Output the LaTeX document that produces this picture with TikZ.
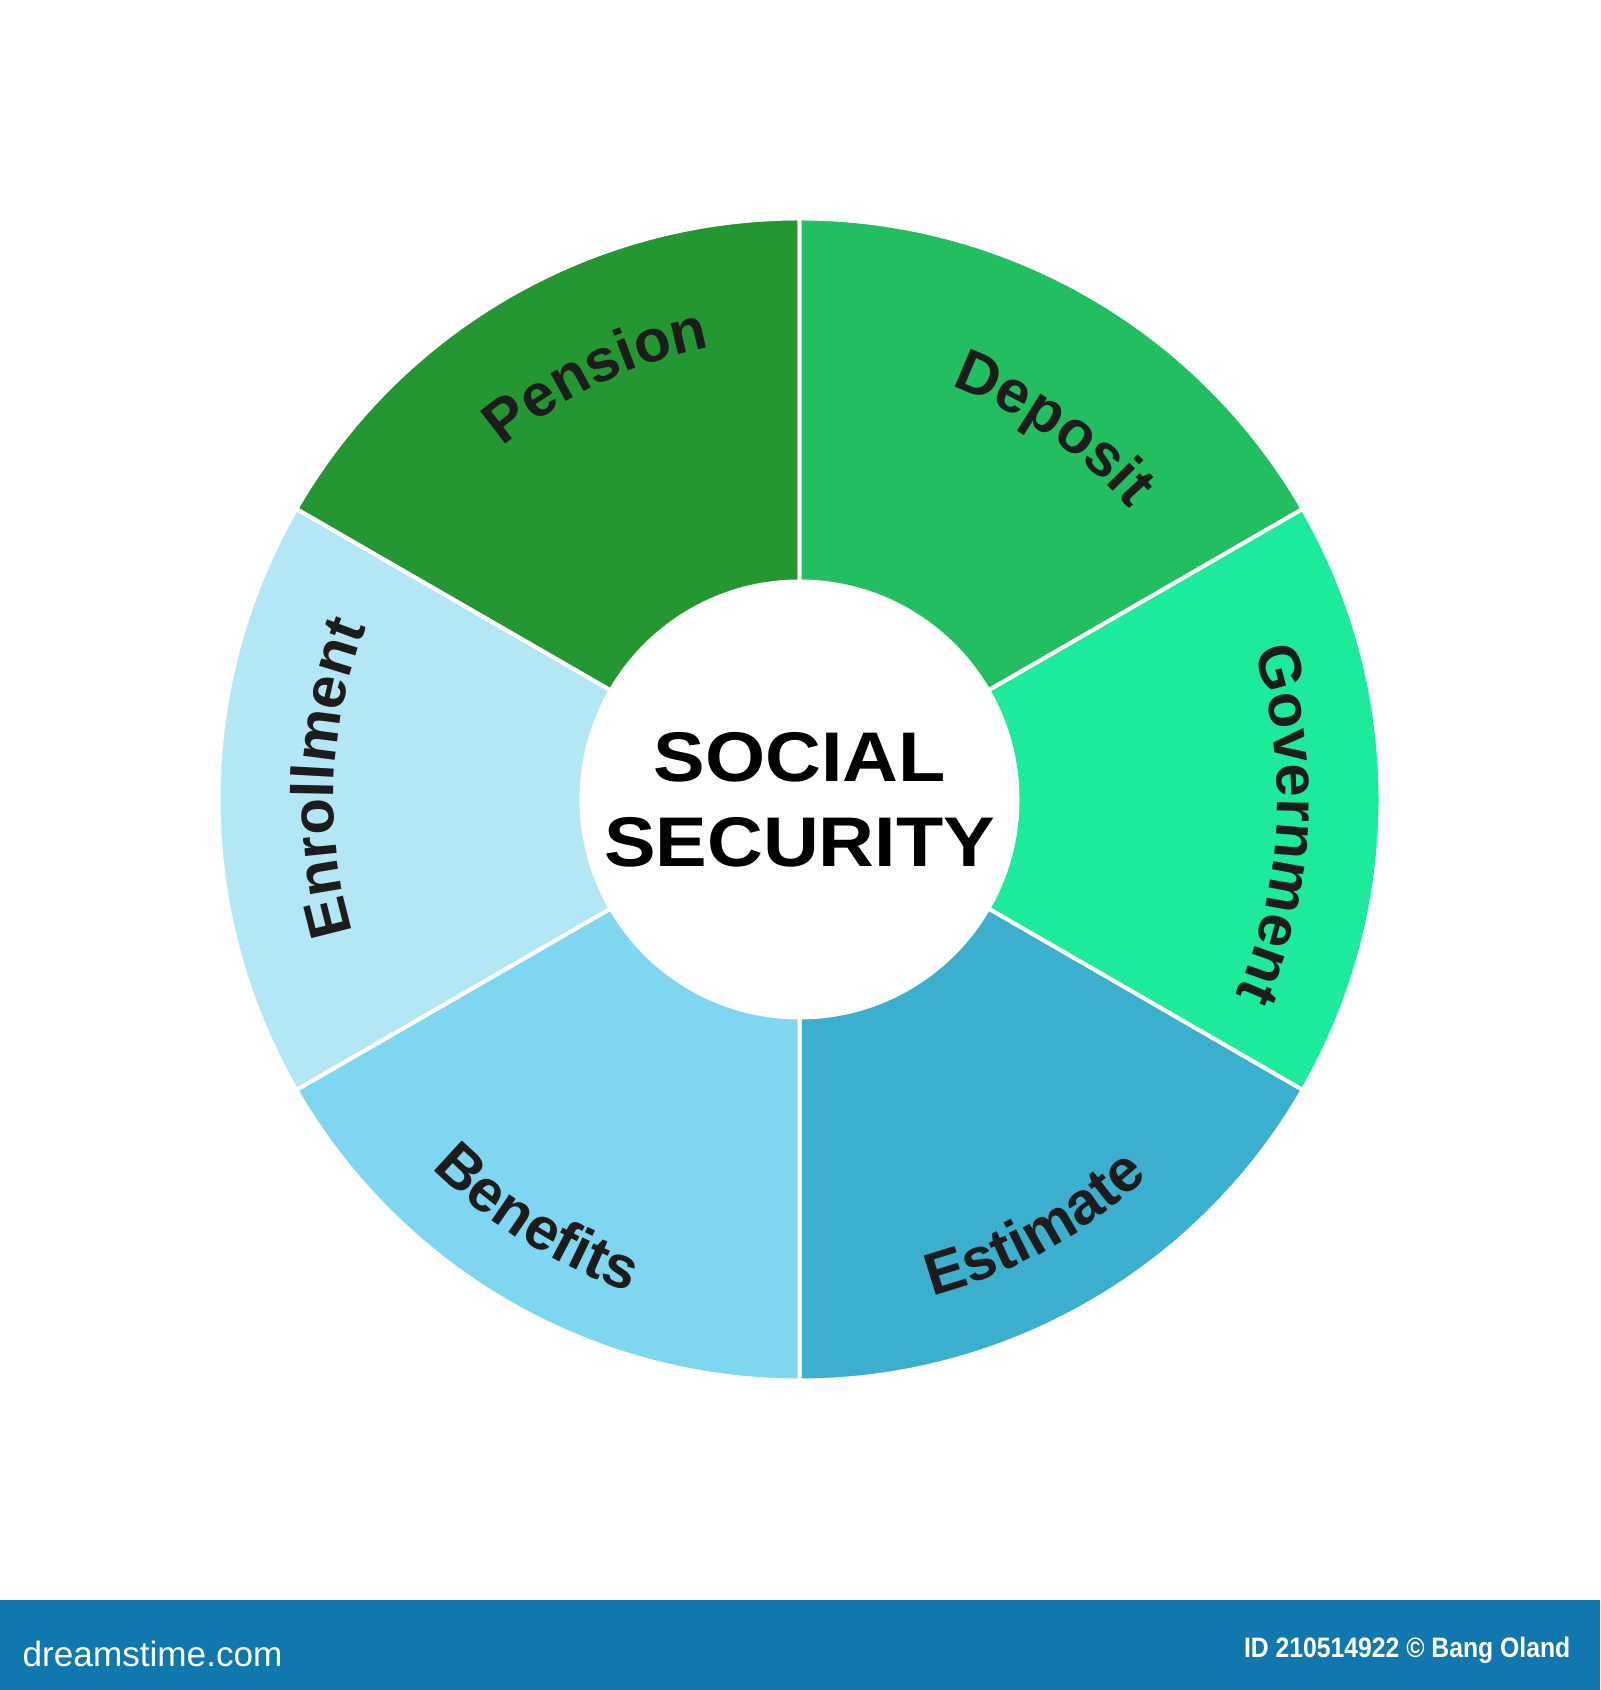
\documentclass[tikz,border=0pt]{standalone}
\usepackage{fontspec}
\setmainfont{Liberation Sans}
\newfontfamily\widefont{Liberation Sans}[FakeStretch=1.1]
\newfontfamily\narrowfont{Liberation Sans}[FakeStretch=0.88]
\definecolor{pensiongreen}{RGB}{36, 151, 51}
\definecolor{depositgreen}{RGB}{35, 190, 95}
\definecolor{govgreen}{RGB}{29, 234, 155}
\definecolor{estimateblue}{RGB}{60, 175, 206}
\definecolor{benefitsblue}{RGB}{126, 214, 241}
\definecolor{enrollblue}{RGB}{179, 231, 246}
\definecolor{barblue}{RGB}{17, 119, 175}
\definecolor{labelblack}{RGB}{28, 28, 28}
\usetikzlibrary{calc, decorations.text}
\newcommand{\labelfont}{\color{labelblack}\bfseries\fontsize{17}{20}\selectfont}
\tikzset{
  segment/.style={draw=white, line width=0.04cm},
  ringlabel/.style={decorate, decoration={text along path, text align=center, text={|\labelfont|#1}}}
}

\begin{document}
\begin{tikzpicture}
  \useasboundingbox (0,0) rectangle (16,16.9);
  \coordinate (c) at (7.995,8.905);

  % ring segments
  \filldraw[segment, fill=pensiongreen] (c) -- ++(90:5.81) arc[start angle=90, end angle=150, radius=5.81] -- cycle;
  \filldraw[segment, fill=depositgreen] (c) -- ++(30:5.81) arc[start angle=30, end angle=90, radius=5.81] -- cycle;
  \filldraw[segment, fill=govgreen] (c) -- ++(-30:5.81) arc[start angle=-30, end angle=30, radius=5.81] -- cycle;
  \filldraw[segment, fill=estimateblue] (c) -- ++(-90:5.81) arc[start angle=-90, end angle=-30, radius=5.81] -- cycle;
  \filldraw[segment, fill=benefitsblue] (c) -- ++(210:5.81) arc[start angle=210, end angle=270, radius=5.81] -- cycle;
  \filldraw[segment, fill=enrollblue] (c) -- ++(150:5.81) arc[start angle=150, end angle=210, radius=5.81] -- cycle;

  \node[circle, fill=white, minimum size=4.4cm, inner sep=0pt, align=center,
        font=\widefont\bfseries\fontsize{20}{24.2}\selectfont] (hub) at (c) {SOCIAL\\SECURITY};

  % labels along the ring
  \path[ringlabel=Pension] ($(c)+(145.6:4.61)$) arc[start angle=145.6, end angle=85.6, radius=4.61];
  \path[ringlabel=Deposit] ($(c)+(85.6:4.40)$) arc[start angle=85.6, end angle=25.6, radius=4.40];
  \path[ringlabel=Government] ($(c)+(32:4.78)$) arc[start angle=32, end angle=-38, radius=4.78];
  \path[ringlabel=Enrollment] ($(c)+(212.4:4.66)$) arc[start angle=212.4, end angle=142.4, radius=4.66];
  \path[ringlabel=Benefits] ($(c)+(208:5.21)$) arc[start angle=208, end angle=268, radius=5.21];
  \path[ringlabel=Estimate] ($(c)+(268.9:5.14)$) arc[start angle=268.9, end angle=328.9, radius=5.14];

  % footer bar
  \fill[barblue] (0,0) rectangle (16,0.9);
  \node[anchor=base west, text=white, font=\fontsize{10}{12}\selectfont, inner sep=0pt] (site) at (0.22,0.24) {dreamstime.com};
  \node[anchor=base east, text=white, font=\narrowfont\bfseries\fontsize{8}{10}\selectfont, inner sep=0pt] (credit) at (15.71,0.33) {ID 210514922 © Bang Oland};
\end{tikzpicture}
\end{document}
